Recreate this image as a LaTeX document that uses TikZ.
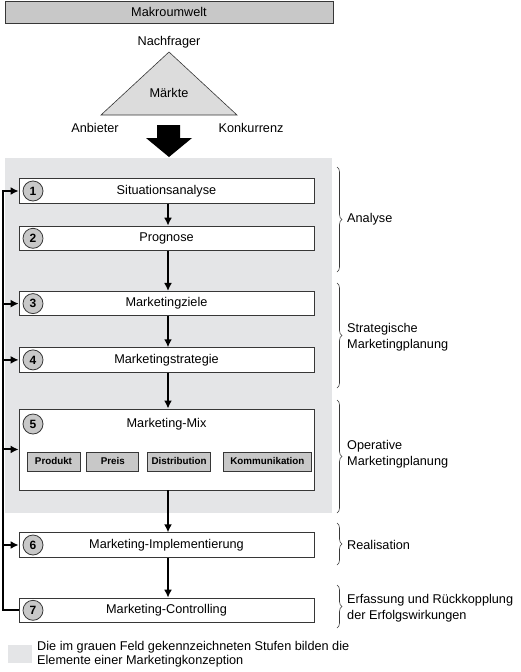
\documentclass[tikz,border=0pt]{standalone}
\usepackage{fontspec}
\setmainfont{Liberation Sans}
\usepackage{tikz}
\usetikzlibrary{shapes,arrows.meta,positioning,decorations.pathreplacing}

\definecolor{bgfeld}{RGB}{228,229,231}
\definecolor{dunkel}{RGB}{55,55,55}
\definecolor{mittel}{RGB}{200,200,200}
\definecolor{hell}{RGB}{220,220,220}

\begin{document}
\begin{tikzpicture}[
    x=1pt, y=-1pt,
    font=\fontsize{12.7}{16}\selectfont,
    stage/.style={rectangle, draw=dunkel, fill=white, line width=0.8pt, minimum width=295pt, minimum height=24.5pt, inner sep=0pt},
    nummer/.style={circle, draw=dunkel, fill=mittel, line width=0.8pt, minimum size=20pt, inner sep=0pt, font=\fontsize{12}{12}\selectfont\bfseries},
    mixbox/.style={rectangle, draw=dunkel, fill=mittel, line width=0.8pt, minimum height=19pt, inner sep=0pt, font=\fontsize{9.8}{10}\selectfont\bfseries},
    arrow/.style={-{Latex[length=8pt,width=8pt]}, line width=2pt},
    klammer/.style={decorate, decoration={brace, amplitude=5pt}, draw=dunkel, line width=0.6pt},
    phase/.style={anchor=west, align=left, inner sep=0pt}
]
\useasboundingbox (0,0) rectangle (521,672);

% Umwelt und Markt
\node[rectangle, draw=dunkel, fill=mittel, line width=0.8pt, minimum width=328pt, minimum height=22pt, inner sep=0pt] (umwelt) at (169,12) {Makroumwelt};
\draw[draw=dunkel, fill=hell, line width=0.6pt] (169,52) -- (101,115) -- (237,115) -- cycle;
\node (nachfrager) at (169,42) {Nachfrager};
\node (maerkte) at (169,93) {Märkte};
\node (anbieter) at (95,128) {Anbieter};
\node (konkurrenz) at (251,128) {Konkurrenz};
\fill (157,125) -- (180,125) -- (180,138) -- (192,138) -- (169,157) -- (146,138) -- (157,138) -- cycle;

% graues Feld
\fill[bgfeld] (5,158) rectangle (332,513);

% Stufen
\node[stage] (s1) at (166.5,191) {Situationsanalyse};
\node[stage, below=22pt of s1] (s2) {Prognose};
\node[stage, below=40pt of s2] (s3) {Marketingziele};
\node[stage, below=31pt of s3] (s4) {Marketingstrategie};
\node[stage, below=36pt of s4, minimum height=81pt] (s5) {};
\node[below=6pt of s5.north] (mix) {Marketing-Mix};
\node[stage, below=42pt of s5] (s6) {Marketing-Implementierung};
\node[stage, below=40pt of s6] (s7) {Marketing-Controlling};

% Nummern
\foreach \i in {1,2,3,4,6,7}
  \node[nummer, right=4pt of s\i.west] (n\i) {\i};
\node[nummer, right=4pt of s5.west |- mix] (n5) {5};

% Marketing-Mix Instrumente
\node[mixbox, minimum width=53pt, right=8pt of s5.west, yshift=-12pt] (produkt) {Produkt};
\node[mixbox, minimum width=52pt, right=6pt of produkt] (preis) {Preis};
\node[mixbox, minimum width=63pt, right=8pt of preis] (distribution) {Distribution};
\node[mixbox, minimum width=88pt, right=12pt of distribution] (kommunikation) {Kommunikation};

% Pfeile
\foreach \a/\b in {1/2,2/3,3/4,4/5,5/6,6/7}
  \draw[arrow] ([xshift=1.5pt]s\a.south) -- ([xshift=1.5pt]s\b.north);

% Rückkopplung
\coordinate (fb) at (3,0);
\draw[arrow] (s7.west) -- (s7.west -| fb) |- (s1.west);
\foreach \i in {3,4,5,6}
  \draw[arrow] (s\i.west -| fb) -- (s\i.west);

% Klammern
\draw[klammer] (337,167) -- (337,272);
\draw[klammer] (337,283) -- (337,388);
\draw[klammer] (337,400) -- (337,513);
\draw[klammer] (337,523) -- (337,565);
\draw[klammer] (337,585) -- (337,628);
\node[phase] (analyse) at (347,219) {Analyse};
\node[phase] (strategie) at (347,337) {Strategische\\Marketingplanung};
\node[phase] (operativ) at (347,454) {Operative\\Marketingplanung};
\node[phase] (realisation) at (347,545) {Realisation};
\node[phase] (erfassung) at (347,608) {Erfassung und Rückkopplung\\der Erfolgswirkungen};

% Legende
\fill[bgfeld] (8,645) rectangle (32,663);
\node[phase, font=\fontsize{12.7}{14}\selectfont] (legende) at (37,654) {Die im grauen Feld gekennzeichneten Stufen bilden die\\Elemente einer Marketingkonzeption};
\end{tikzpicture}
\end{document}
